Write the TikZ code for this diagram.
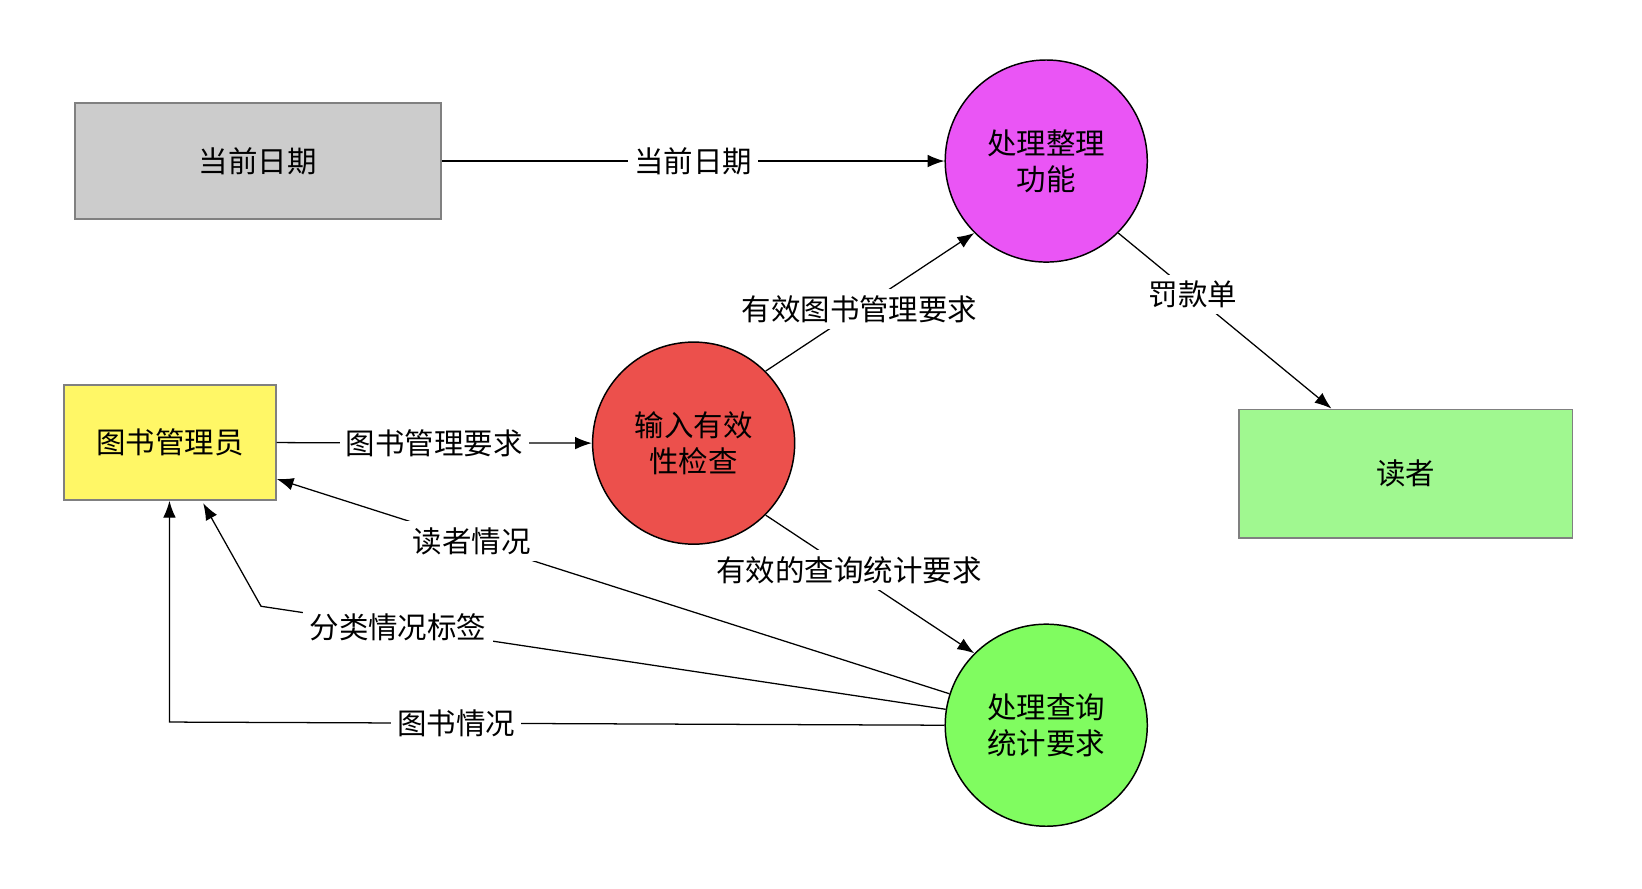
\documentclass[tikz,border=0pt]{standalone}
\usepackage{fontspec}
\setmainfont{Noto Sans CJK SC}
\usetikzlibrary{arrows.meta}
\begin{document}
\begin{tikzpicture}[x=0.5pt,y=-0.5pt,
  every node/.style={font=\fontsize{14pt}{17pt}\selectfont},
  ent/.style={draw=gray,line width=0.8pt,inner sep=0pt},
  proc/.style={draw=black,circle,minimum size=96pt,inner sep=0pt,line width=0.7pt,align=center},
  lab/.style={fill=white,inner sep=3pt},
  flow/.style={-{Latex[length=8pt,width=6pt]},line width=0.6pt}]
\useasboundingbox (0,0) rectangle (1560,844);
\node[ent,fill=gray!40,minimum width=174pt,minimum height=55pt] (date) at (245,153) {当前日期};
\node[ent,fill=yellow!60,minimum width=100.5pt,minimum height=54.5pt] (lib) at (161.5,420.5) {图书管理员};
\node[ent,fill={rgb,255:red,160;green,248;blue,144},minimum width=158.5pt,minimum height=61pt] (reader) at (1335.5,450) {读者};
\node[proc,fill={rgb,255:red,234;green,85;blue,245}] (p1) at (994,153) {处理整理\\功能};
\node[proc,fill={rgb,255:red,236;green,80;blue,76}] (p2) at (659,421) {输入有效\\性检查};
\node[proc,fill={rgb,255:red,128;green,252;blue,96}] (p3) at (994,689) {处理查询\\统计要求};
\coordinate (c1) at (248,576);
\coordinate (c2) at (161,686);
\draw[flow] (date.east) -- node[lab]{当前日期} (p1.west);
\draw[flow] (p2.45) -- node[lab,pos=0.45]{有效图书管理要求} (p1.225);
\draw[flow] (p1.-45) -- node[lab,pos=0.35]{罚款单} (reader.north west -| 1265,0);
\draw[flow] (lib.east) -- node[lab]{图书管理要求} (p2.west);
\draw[flow] (p2.-45) -- node[lab,pos=0.4]{有效的查询统计要求} (p3.135);
\draw[flow] (p3.162) -- node[lab,pos=0.71]{读者情况} (lib.east |- 0,455);
\draw[flow] (p3.171) -- node[lab,pos=0.8]{分类情况标签} (c1) -- (193,478);
\draw[flow] (p3.west) -- node[lab,pos=0.63]{图书情况} (c2) -- (lib.south -| c2);
\end{tikzpicture}
\end{document}
